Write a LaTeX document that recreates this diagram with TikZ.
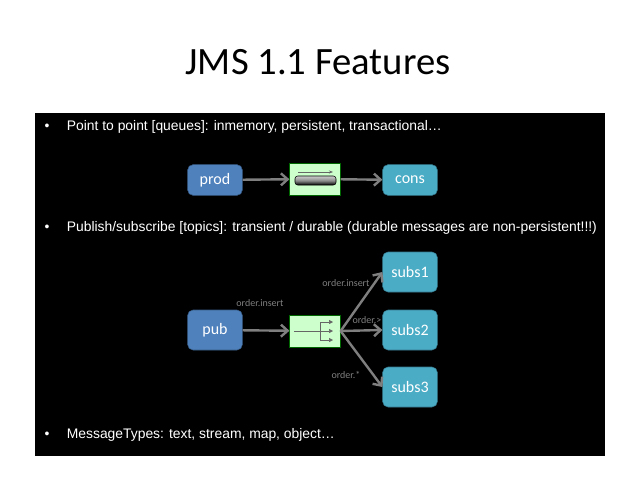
\documentclass[tikz,border=0pt]{standalone}
\usepackage{fontspec}
\setmainfont{Liberation Sans}
\newfontfamily\carl{Carlito}
\usetikzlibrary{arrows.meta}
\definecolor{bblue}{HTML}{4F81BD}
\definecolor{tblue}{HTML}{4BACC6}
\definecolor{lgreen}{HTML}{CCFFCC}
\definecolor{agray}{HTML}{7F7F7F}
\begin{document}
\begin{tikzpicture}[x=0.75pt,y=-0.75pt,
  box/.style={rounded corners=4pt,draw=#1!70!black,fill=#1,text=white,font=\carl\fontsize{12}{14}\selectfont,minimum width=41pt,minimum height=23pt,inner sep=0},
  q/.style={draw=green!40!black,fill=lgreen,minimum width=38pt,minimum height=24pt,inner sep=0},
  arr/.style={draw=agray,line width=1.8pt,-{Straight Barb[length=5pt,width=9pt]}},
  lab/.style={text=agray,font=\carl\fontsize{7.5}{8}\selectfont,inner sep=1pt},
  bul/.style={text=white,font=\fontsize{10.4}{12}\selectfont,anchor=west}]
\useasboundingbox (0,0) rectangle (638,479);
\fill[white] (0,0) rectangle (638,479);
\fill[black] (35,113) rectangle (605,456);
\node[font=\carl\fontsize{29}{34}\selectfont] (title) at (318,62) {JMS 1.1 Features};
\node[bul] (b1) at (40,127) {•\hspace{13pt}Point to point [queues]: inmemory, persistent, transactional…};
\node[bul] (b2) at (40,228) {•\hspace{13pt}Publish/subscribe [topics]: transient / durable (durable messages are non-persistent!!!)};
\node[bul] (b3) at (40,435) {•\hspace{13pt}MessageTypes: text, stream, map, object…};
\node[box=bblue] (prod) at (215,180) {prod};
\node[q] (queue) at (315,179) {};
\node[box=tblue] (cons) at (410,180) {cons};
\shade[top color=gray!40,bottom color=black,middle color=gray!90,rounded corners=2pt,draw=black] (295,176) rectangle (336,185);
\draw[gray!80!black,-{Stealth[length=3pt]}] (298,172) -- (333,172);
\draw[arr] (prod) -- (queue);
\draw[arr] (queue) -- (cons);
\node[box=bblue,minimum height=30pt] (pub) at (215,330) {pub};
\node[q] (router) at (315,331) {};
\node[box=tblue,minimum height=30pt] (s1) at (410,272) {subs1};
\node[box=tblue,minimum height=30pt] (s2) at (410,330) {subs2};
\node[box=tblue,minimum height=30pt] (s3) at (410,387) {subs3};
\draw[agray!80!black,-{Triangle[length=3pt,width=3pt]}] (294,331) -- (333,331);
\draw[agray!80!black] (320,322) -- (320,340);
\draw[agray!80!black,-{Triangle[length=3pt,width=3pt]}] (320,322) -- (333,322);
\draw[agray!80!black,-{Triangle[length=3pt,width=3pt]}] (320,340) -- (333,340);
\draw[arr] (pub) -- (router);
\coordinate (r) at (router.east);
\draw[arr] (r) -- (s1.west);
\draw[arr] (r) -- (s2.west);
\draw[arr] (r) -- (s3.west);
\node[lab] (l0) at (260,303) {order.insert};
\node[lab] (l1) at (346,283) {order.insert};
\node[lab] (l2) at (367,320) {order.>};
\node[lab] (l3) at (346,375) {order.*};
\end{tikzpicture}
\end{document}
